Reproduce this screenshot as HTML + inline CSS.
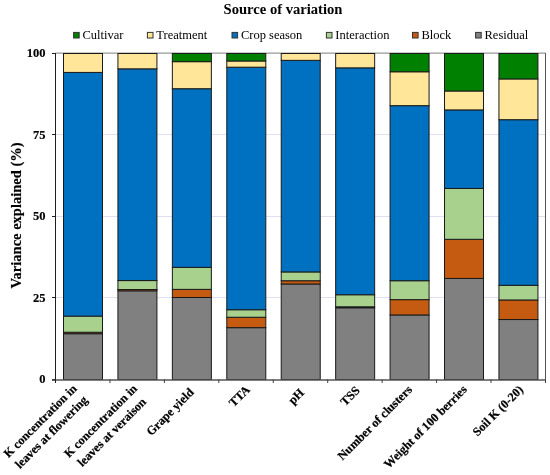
<!DOCTYPE html>
<html><head><meta charset="utf-8"><style>
html,body{margin:0;padding:0;background:#fff;}
body{width:550px;height:475px;overflow:hidden;}
svg{display:block;}
text{font-family:"Liberation Serif","Times New Roman",serif;fill:#000;}
.tk{font-size:12.5px;font-weight:bold;stroke:#000;stroke-width:0.15px;}
.yt{font-size:14.5px;font-weight:bold;stroke:#000;stroke-width:0.15px;}
.tt{font-size:14.6px;font-weight:bold;}
.lg{font-size:12.5px;}
.xl{font-size:12.2px;font-weight:bold;stroke:#000;stroke-width:0.2px;}
</style></head><body>
<svg width="550" height="475" viewBox="0 0 550 475">
<rect width="550" height="475" fill="#fff"/>
<line x1="56" x2="545" y1="297.50" y2="297.50" stroke="#DCE0F0" stroke-width="1"/>
<line x1="56" x2="545" y1="216.50" y2="216.50" stroke="#DCE0F0" stroke-width="1"/>
<line x1="56" x2="545" y1="134.50" y2="134.50" stroke="#DCE0F0" stroke-width="1"/>
<line x1="55.5" x2="545.5" y1="53.1" y2="53.1" stroke="#7F7F7F" stroke-width="1"/>
<line x1="545.5" x2="545.5" y1="53" y2="383" stroke="#555" stroke-width="1"/>
<rect x="63.50" y="333.70" width="39.00" height="45.80" fill="#808080" stroke="#1a1a1a" stroke-width="1"/>
<rect x="63.50" y="332.23" width="39.00" height="1.47" fill="#C55A11" stroke="#1a1a1a" stroke-width="1"/>
<rect x="63.50" y="316.09" width="39.00" height="16.14" fill="#A9D18E" stroke="#1a1a1a" stroke-width="1"/>
<rect x="63.50" y="72.41" width="39.00" height="243.69" fill="#0070C0" stroke="#1a1a1a" stroke-width="1"/>
<rect x="63.50" y="53.50" width="39.00" height="18.91" fill="#FFE699" stroke="#1a1a1a" stroke-width="1"/>
<rect x="117.93" y="290.83" width="39.00" height="88.67" fill="#808080" stroke="#1a1a1a" stroke-width="1"/>
<rect x="117.93" y="289.52" width="39.00" height="1.30" fill="#C55A11" stroke="#1a1a1a" stroke-width="1"/>
<rect x="117.93" y="280.56" width="39.00" height="8.97" fill="#A9D18E" stroke="#1a1a1a" stroke-width="1"/>
<rect x="117.93" y="68.82" width="39.00" height="211.74" fill="#0070C0" stroke="#1a1a1a" stroke-width="1"/>
<rect x="117.93" y="53.50" width="39.00" height="15.32" fill="#FFE699" stroke="#1a1a1a" stroke-width="1"/>
<rect x="172.36" y="297.51" width="39.00" height="81.99" fill="#808080" stroke="#1a1a1a" stroke-width="1"/>
<rect x="172.36" y="289.36" width="39.00" height="8.15" fill="#C55A11" stroke="#1a1a1a" stroke-width="1"/>
<rect x="172.36" y="267.36" width="39.00" height="22.00" fill="#A9D18E" stroke="#1a1a1a" stroke-width="1"/>
<rect x="172.36" y="88.71" width="39.00" height="178.65" fill="#0070C0" stroke="#1a1a1a" stroke-width="1"/>
<rect x="172.36" y="61.65" width="39.00" height="27.06" fill="#FFE699" stroke="#1a1a1a" stroke-width="1"/>
<rect x="172.36" y="53.50" width="39.00" height="8.15" fill="#008000" stroke="#1a1a1a" stroke-width="1"/>
<rect x="226.79" y="327.67" width="39.00" height="51.83" fill="#808080" stroke="#1a1a1a" stroke-width="1"/>
<rect x="226.79" y="317.23" width="39.00" height="10.43" fill="#C55A11" stroke="#1a1a1a" stroke-width="1"/>
<rect x="226.79" y="309.74" width="39.00" height="7.50" fill="#A9D18E" stroke="#1a1a1a" stroke-width="1"/>
<rect x="226.79" y="67.19" width="39.00" height="242.54" fill="#0070C0" stroke="#1a1a1a" stroke-width="1"/>
<rect x="226.79" y="61.00" width="39.00" height="6.19" fill="#FFE699" stroke="#1a1a1a" stroke-width="1"/>
<rect x="226.79" y="53.50" width="39.00" height="7.50" fill="#008000" stroke="#1a1a1a" stroke-width="1"/>
<rect x="281.22" y="283.98" width="39.00" height="95.52" fill="#808080" stroke="#1a1a1a" stroke-width="1"/>
<rect x="281.22" y="280.72" width="39.00" height="3.26" fill="#C55A11" stroke="#1a1a1a" stroke-width="1"/>
<rect x="281.22" y="271.92" width="39.00" height="8.80" fill="#A9D18E" stroke="#1a1a1a" stroke-width="1"/>
<rect x="281.22" y="60.35" width="39.00" height="211.57" fill="#0070C0" stroke="#1a1a1a" stroke-width="1"/>
<rect x="281.22" y="53.50" width="39.00" height="6.85" fill="#FFE699" stroke="#1a1a1a" stroke-width="1"/>
<rect x="335.65" y="307.78" width="39.00" height="71.72" fill="#808080" stroke="#1a1a1a" stroke-width="1"/>
<rect x="335.65" y="306.80" width="39.00" height="0.98" fill="#C55A11" stroke="#1a1a1a" stroke-width="1"/>
<rect x="335.65" y="294.74" width="39.00" height="12.06" fill="#A9D18E" stroke="#1a1a1a" stroke-width="1"/>
<rect x="335.65" y="67.84" width="39.00" height="226.90" fill="#0070C0" stroke="#1a1a1a" stroke-width="1"/>
<rect x="335.65" y="53.50" width="39.00" height="14.34" fill="#FFE699" stroke="#1a1a1a" stroke-width="1"/>
<rect x="390.08" y="314.95" width="39.00" height="64.55" fill="#808080" stroke="#1a1a1a" stroke-width="1"/>
<rect x="390.08" y="299.63" width="39.00" height="15.32" fill="#C55A11" stroke="#1a1a1a" stroke-width="1"/>
<rect x="390.08" y="280.72" width="39.00" height="18.91" fill="#A9D18E" stroke="#1a1a1a" stroke-width="1"/>
<rect x="390.08" y="105.66" width="39.00" height="175.06" fill="#0070C0" stroke="#1a1a1a" stroke-width="1"/>
<rect x="390.08" y="71.76" width="39.00" height="33.90" fill="#FFE699" stroke="#1a1a1a" stroke-width="1"/>
<rect x="390.08" y="53.50" width="39.00" height="18.26" fill="#008000" stroke="#1a1a1a" stroke-width="1"/>
<rect x="444.51" y="278.44" width="39.00" height="101.06" fill="#808080" stroke="#1a1a1a" stroke-width="1"/>
<rect x="444.51" y="239.32" width="39.00" height="39.12" fill="#C55A11" stroke="#1a1a1a" stroke-width="1"/>
<rect x="444.51" y="188.46" width="39.00" height="50.86" fill="#A9D18E" stroke="#1a1a1a" stroke-width="1"/>
<rect x="444.51" y="109.90" width="39.00" height="78.57" fill="#0070C0" stroke="#1a1a1a" stroke-width="1"/>
<rect x="444.51" y="90.99" width="39.00" height="18.91" fill="#FFE699" stroke="#1a1a1a" stroke-width="1"/>
<rect x="444.51" y="53.50" width="39.00" height="37.49" fill="#008000" stroke="#1a1a1a" stroke-width="1"/>
<rect x="498.94" y="319.52" width="39.00" height="59.98" fill="#808080" stroke="#1a1a1a" stroke-width="1"/>
<rect x="498.94" y="299.96" width="39.00" height="19.56" fill="#C55A11" stroke="#1a1a1a" stroke-width="1"/>
<rect x="498.94" y="285.29" width="39.00" height="14.67" fill="#A9D18E" stroke="#1a1a1a" stroke-width="1"/>
<rect x="498.94" y="119.68" width="39.00" height="165.61" fill="#0070C0" stroke="#1a1a1a" stroke-width="1"/>
<rect x="498.94" y="78.93" width="39.00" height="40.75" fill="#FFE699" stroke="#1a1a1a" stroke-width="1"/>
<rect x="498.94" y="53.50" width="39.00" height="25.43" fill="#008000" stroke="#1a1a1a" stroke-width="1"/>
<line x1="52" x2="545.5" y1="380" y2="380" stroke="#555" stroke-width="1.5"/>
<line x1="109.94" x2="109.94" y1="379.50" y2="383" stroke="#404040" stroke-width="1"/>
<line x1="164.38" x2="164.38" y1="379.50" y2="383" stroke="#404040" stroke-width="1"/>
<line x1="218.82" x2="218.82" y1="379.50" y2="383" stroke="#404040" stroke-width="1"/>
<line x1="273.26" x2="273.26" y1="379.50" y2="383" stroke="#404040" stroke-width="1"/>
<line x1="327.70" x2="327.70" y1="379.50" y2="383" stroke="#404040" stroke-width="1"/>
<line x1="382.14" x2="382.14" y1="379.50" y2="383" stroke="#404040" stroke-width="1"/>
<line x1="436.58" x2="436.58" y1="379.50" y2="383" stroke="#404040" stroke-width="1"/>
<line x1="491.02" x2="491.02" y1="379.50" y2="383" stroke="#404040" stroke-width="1"/>
<line x1="545.46" x2="545.46" y1="379.50" y2="383" stroke="#404040" stroke-width="1"/>
<line x1="55.5" x2="55.5" y1="53.00" y2="383" stroke="#202020" stroke-width="1"/>
<line x1="52" x2="55.5" y1="379.80" y2="379.80" stroke="#202020" stroke-width="1"/>
<text x="45.4" y="383.40" text-anchor="end" class="tk">0</text>
<line x1="52" x2="55.5" y1="297.50" y2="297.50" stroke="#202020" stroke-width="1"/>
<text x="45.4" y="301.90" text-anchor="end" class="tk">25</text>
<line x1="52" x2="55.5" y1="216.50" y2="216.50" stroke="#202020" stroke-width="1"/>
<text x="45.4" y="220.40" text-anchor="end" class="tk">50</text>
<line x1="52" x2="55.5" y1="134.50" y2="134.50" stroke="#202020" stroke-width="1"/>
<text x="45.4" y="138.90" text-anchor="end" class="tk">75</text>
<line x1="52" x2="55.5" y1="53.50" y2="53.50" stroke="#202020" stroke-width="1"/>
<text x="45.4" y="56.80" text-anchor="end" class="tk">100</text>
<text transform="translate(21.4,215.5) rotate(-90)" text-anchor="middle" class="yt">Variance explained (%)</text>
<text x="283" y="14.1" text-anchor="middle" class="tt">Source of variation</text>
<rect x="73.60" y="32.4" width="5.6" height="5.6" fill="#008000" stroke="#333" stroke-width="1"/>
<text x="82.50" y="39.2" class="lg">Cultivar</text>
<rect x="147.40" y="32.4" width="5.6" height="5.6" fill="#FFE699" stroke="#333" stroke-width="1"/>
<text x="156.30" y="39.2" class="lg">Treatment</text>
<rect x="232.00" y="32.4" width="5.6" height="5.6" fill="#0070C0" stroke="#333" stroke-width="1"/>
<text x="240.90" y="39.2" class="lg">Crop season</text>
<rect x="326.40" y="32.4" width="5.6" height="5.6" fill="#A9D18E" stroke="#333" stroke-width="1"/>
<text x="335.30" y="39.2" class="lg">Interaction</text>
<rect x="412.50" y="32.4" width="5.6" height="5.6" fill="#C55A11" stroke="#333" stroke-width="1"/>
<text x="421.40" y="39.2" class="lg">Block</text>
<rect x="475.60" y="32.4" width="5.6" height="5.6" fill="#808080" stroke="#333" stroke-width="1"/>
<text x="484.50" y="39.2" class="lg">Residual</text>
<text transform="translate(43.00,423.80) rotate(-45)" text-anchor="middle" class="xl">K concentration in</text>
<text transform="translate(54.17,434.98) rotate(-45)" text-anchor="middle" class="xl">leaves at flowering</text>
<text transform="translate(103.41,423.80) rotate(-45)" text-anchor="middle" class="xl">K concentration in</text>
<text transform="translate(114.58,434.98) rotate(-45)" text-anchor="middle" class="xl">leaves at veraison</text>
<text transform="translate(172.84,414.68) rotate(-45)" text-anchor="middle" class="xl">Grape yield</text>
<text transform="translate(242.29,398.95) rotate(-45)" text-anchor="middle" class="xl">TTA</text>
<text transform="translate(298.89,399.25) rotate(-45)" text-anchor="middle" class="xl">pH</text>
<text transform="translate(352.88,398.87) rotate(-45)" text-anchor="middle" class="xl">TSS</text>
<text transform="translate(377.72,425.54) rotate(-45)" text-anchor="middle" class="xl">Number of clusters</text>
<text transform="translate(428.16,429.61) rotate(-45)" text-anchor="middle" class="xl">Weight of 100 berries</text>
<text transform="translate(500.74,413.64) rotate(-45)" text-anchor="middle" class="xl">Soil K (0-20)</text>
</svg>
</body></html>
